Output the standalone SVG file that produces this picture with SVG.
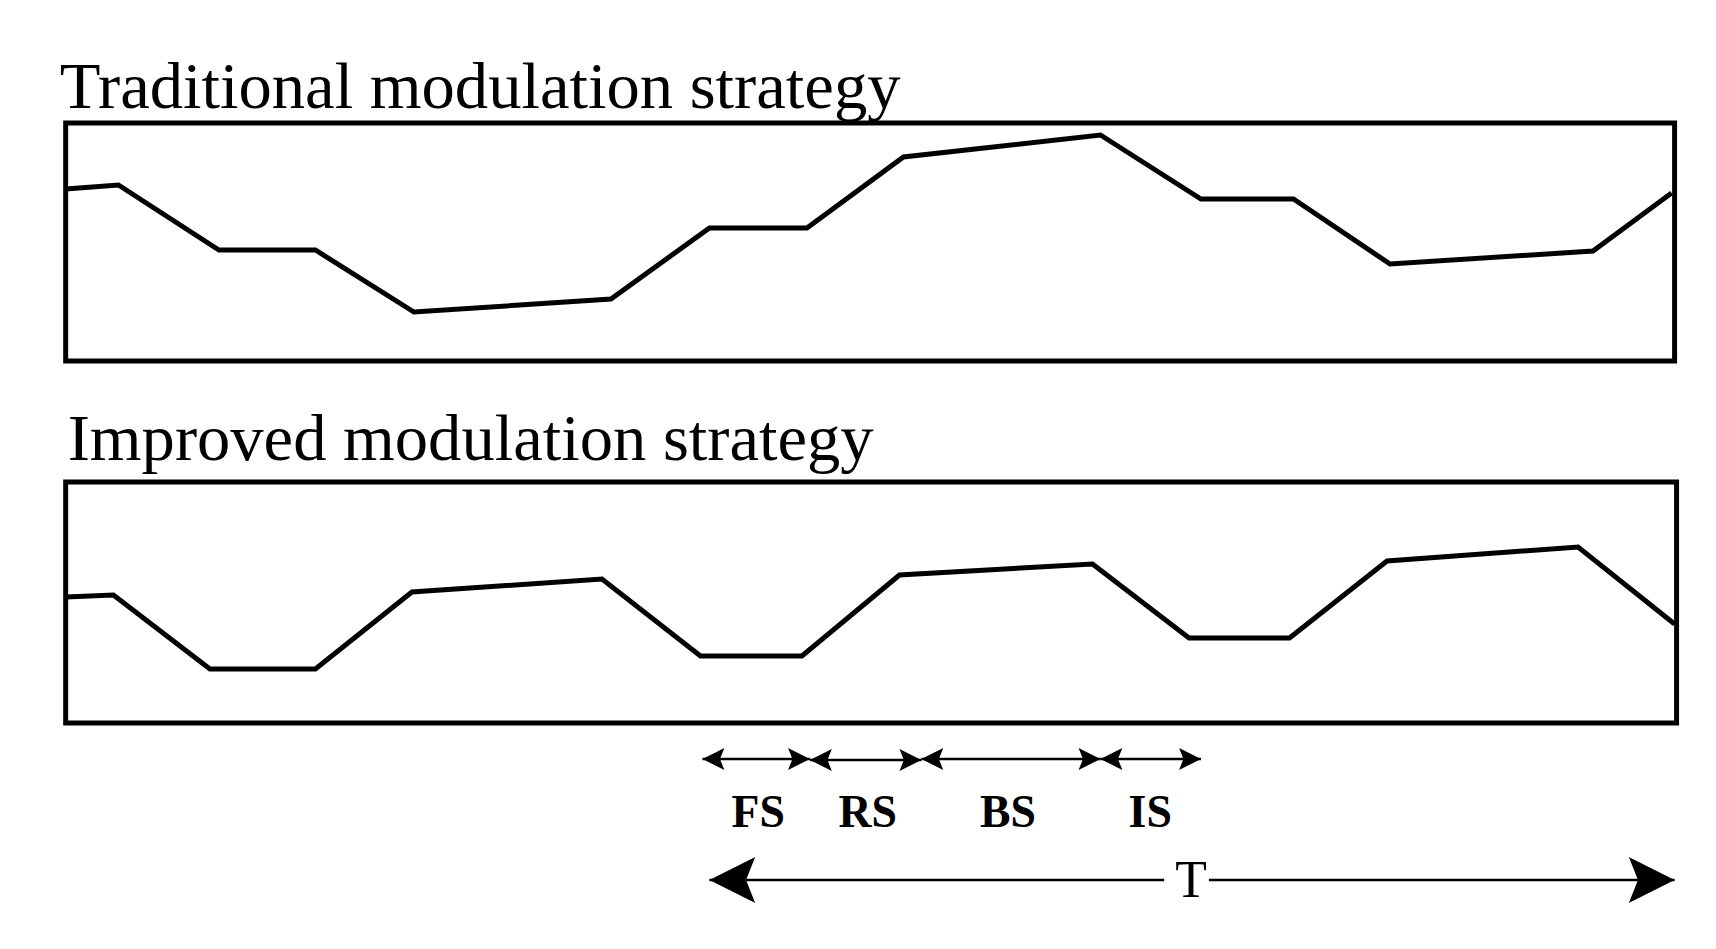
<svg xmlns="http://www.w3.org/2000/svg" width="1716" height="949" viewBox="0 0 1716 949">
<style>
.box{fill:none;stroke:#000;stroke-width:5}
.wave{fill:none;stroke:#000;stroke-width:5;stroke-linejoin:miter}
.title{font-family:"Liberation Serif",serif;font-size:66px}
.lbl{font-family:"Liberation Serif",serif;font-size:46px;font-weight:bold;text-anchor:middle}
.sm{stroke:#000;stroke-width:2.5;fill:none}
</style>
<defs>
<marker id="ah" viewBox="0 0 10 10" refX="10" refY="5" markerWidth="26" markerHeight="22" markerUnits="userSpaceOnUse" orient="auto-start-reverse"><path d="M0,0 L10,5 L0,10 L2,5 Z" fill="#000"/></marker>
<marker id="ab" viewBox="0 0 10 10" refX="10" refY="5" markerWidth="48" markerHeight="46" markerUnits="userSpaceOnUse" orient="auto-start-reverse"><path d="M0,0 L10,5 L0,10 L2,5 Z" fill="#000"/></marker>
</defs>
<rect width="1716" height="949" fill="#fff"/>
<g transform="matrix(0.995,0,0,1,0,0)">
<g id="panel1">
<text class="title" x="60" y="108" textLength="845" lengthAdjust="spacingAndGlyphs">Traditional modulation strategy</text>
<rect class="box" x="66" y="123" width="1617" height="238"/>
<polyline class="wave" points="66,189 119,185 220,250 317,250 416,312 614,299 713,228 811,228 908,157 1106,135 1207,199 1300,199 1397,264 1601,251 1680,193"/>
</g>
<g id="panel2">
<text class="title" x="68" y="460" textLength="810" lengthAdjust="spacingAndGlyphs">Improved modulation strategy</text>
<rect class="box" x="66" y="482" width="1619" height="241"/>
<polyline class="wave" points="66,597 114,595 211,669 317,669 414,592 605,579 704,656 806,656 904,575 1098,564 1195,638 1296,638 1394,561 1586,547 1683,624"/>
</g>
<g id="connectors">
<line class="sm" x1="706" y1="759" x2="814" y2="759" marker-start="url(#ah)" marker-end="url(#ah)"/>
<line class="sm" x1="814" y1="760" x2="926" y2="760" marker-start="url(#ah)" marker-end="url(#ah)"/>
<line class="sm" x1="926" y1="759" x2="1106" y2="759" marker-start="url(#ah)" marker-end="url(#ah)"/>
<line class="sm" x1="1106" y1="759" x2="1207" y2="759" marker-start="url(#ah)" marker-end="url(#ah)"/>
<line class="sm" x1="713" y1="880" x2="1170" y2="880" marker-start="url(#ab)"/>
<line class="sm" x1="1215" y1="880" x2="1683" y2="880" marker-end="url(#ab)"/>
</g>
<g id="labels">
<text class="lbl" x="762" y="827">FS</text>
<text class="lbl" x="872" y="827">RS</text>
<text class="lbl" x="1013" y="827">BS</text>
<text class="lbl" x="1156" y="827">IS</text>
<text x="1197" y="897" font-family="Liberation Serif,serif" font-size="52" text-anchor="middle">T</text>
</g>
</g>
</svg>
